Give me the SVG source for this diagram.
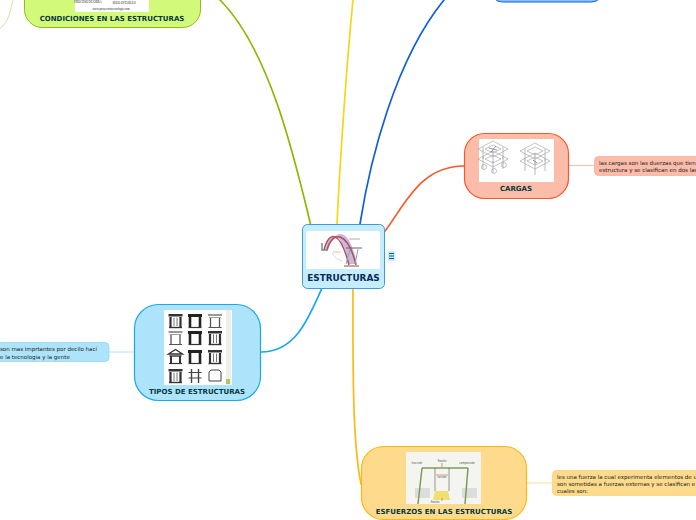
<svg xmlns="http://www.w3.org/2000/svg" width="696" height="520" viewBox="0 0 696 520">
<defs>
<style>
.lab{font-family:"DejaVu Sans",Verdana,sans-serif;font-weight:700;text-anchor:middle;fill:#063a3e;font-size:7px}
.note{font-family:"DejaVu Sans",Verdana,sans-serif;font-size:5.5px;fill:#222}
.tiny{font-family:"Liberation Sans",Arial,sans-serif;font-size:3px;fill:#555;text-anchor:middle}
.tinyd{font-family:"Liberation Serif",serif;font-size:3px;fill:#222;text-anchor:middle}
.c{fill:none;stroke-width:1.7;stroke-linecap:round}
.img{fill:#fff}
.fr{fill:none;stroke:#9a9a9a;stroke-width:.6}
</style>
<g id="archA">
<path d="M-7 -7H7V-4.500H-7Z" fill="#333"/><path d="M-5 -4V6M5 -4V6" stroke="#333" stroke-width="2.200"/><path d="M-6.500 6.500H6.500" stroke="#333" stroke-width="1.400"/><path d="M-1.500 -3.500V5M1.500 -3.500V5" stroke="#777" stroke-width="1"/>
</g>
<g id="archB">
<path d="M-7 -6H7" stroke="#555" stroke-width="1.200"/><path d="M-6 -3.500H6" stroke="#888" stroke-width=".8"/><path d="M-4.500 -3V6M4.500 -3V6" stroke="#555" stroke-width="1.300"/><path d="M-6.500 6.500H6.500" stroke="#555" stroke-width="1"/>
</g>
<g id="archC">
<path d="M-7 -3L0 -7.500L7 -3Z" fill="none" stroke="#333" stroke-width="1.400"/><path d="M-6 -1H6" stroke="#333" stroke-width="1.400"/><path d="M-4.500 -1V6M4.500 -1V6" stroke="#333" stroke-width="2"/><path d="M-6.500 6.500H6.500" stroke="#333" stroke-width="1.200"/>
</g>
<g id="archD">
<path d="M-7 -7H7V-4H-7Z" fill="#222"/><path d="M-5 -4V6M5 -4V6" stroke="#222" stroke-width="2.600"/><path d="M-6.500 6.500H6.500" stroke="#333" stroke-width="1.200"/>
</g>
<g id="archE">
<path d="M-6.500 -3.500H6.500M-6.500 2H6.500" stroke="#444" stroke-width="1.100"/><path d="M-3.500 -7V7M3.500 -7V7" stroke="#444" stroke-width="1.400"/>
</g>
<g id="floor">
<path d="M0 -8L15 0L0 8L-15 0Z" class="fr"/><path d="M0 -4L8 0L0 4L-8 0Z" class="fr"/><path d="M-10 -2V10M10 -2V10M0 2V14" stroke="#aaa" stroke-width=".8"/>
</g>
</defs>
<rect width="696" height="520" fill="#fff"/>
<g id="connectors">
<path class="c" stroke="#8ab800" d="M311 226C295 160 270 50 220 0"/>
<path class="c" stroke="#f2d818" d="M337 224C340 160 347 60 353 0"/>
<path class="c" stroke="#1060d8" d="M360 224C370 160 395 60 444 0"/>
<path class="c" stroke="#f5582a" d="M385 231C405 205 420 166 464 166"/>
<path class="c" stroke="#1ba8e8" d="M322 288C308 320 295 352 261 352"/>
<path class="c" stroke="#fbb916" d="M353 288C353 360 352 440 361 484"/>
<path fill="none" stroke="#d9e0a4" stroke-width="1" d="M13 0C10 12 8 24 0 28"/>
<path fill="none" stroke="#fbbcaa" stroke-width="1" d="M568 165.500H594"/>
<path fill="none" stroke="#aee4fb" stroke-width="1" d="M109 352H134"/>
<path fill="none" stroke="#fedb8c" stroke-width="1" d="M526 483H552"/>
</g>
<g id="node-condiciones">
<rect x="24.500" y="-30" width="176" height="57.500" rx="18" fill="#d3f97a" stroke="#8cc010"/>
<rect class="img" x="75" y="-4" width="74" height="16"/>
<text class="tinyd" x="88" y="3">PROCESO DE OBRA</text>
<text class="tinyd" x="124" y="4">SOLO ESTABLES</text>
<text class="tinyd" x="111" y="10">www.proyectostecnologia.com</text>
<text class="lab" x="112" y="21">CONDICIONES EN LAS ESTRUCTURAS</text>
</g>
<g id="node-azul">
<rect x="490.500" y="-30" width="113" height="32" rx="12" fill="#8cc0fa" stroke="#1060d8"/>
</g>
<g id="node-central">
<rect x="302.500" y="224.500" width="82" height="64" rx="5" fill="#c6edfd" stroke="#3c9be0"/>
<rect class="img" x="306" y="231" width="74" height="38" rx="1.500"/>
<path d="M325 250C329 230 342 230 349 264L357 264C350 228 335 226 328 250Z" fill="#c9b8dc"/>
<path d="M324 250C329 230 340 230 349 265" fill="none" stroke="#b0505c" stroke-width="1.500"/>
<path d="M327 250C333 229 348 232 356 265" fill="none" stroke="#b0505c" stroke-width="1.500"/>
<path d="M346 248H362" stroke="#666" stroke-width="1"/>
<path d="M322 243V250H328" stroke="#888" stroke-width="1.500" fill="none"/>
<path d="M344 266H359" stroke="#c8a898" stroke-width="2"/>
<path d="M350 249L346 264M358 249L355 264" stroke="#999" stroke-width="1"/>
<path d="M332 253C335 258 338 260 342 261" fill="none" stroke="#e8c0a0" stroke-width=".7"/>
<path d="M333 252H341" stroke="#f0a080" stroke-width=".7"/>
<path d="M349 239H360" stroke="#999" stroke-width=".8"/>
<text x="343.500" y="280.500" font-family="'DejaVu Sans',Verdana,sans-serif" font-weight="700" font-size="8.900" text-anchor="middle" fill="#082a58">ESTRUCTURAS</text>
</g>
<g id="icon-menu">
<rect x="387.500" y="251" width="8" height="10" rx="1.500" fill="#c6edfd"/>
<path d="M389 253.500H394M389 256H394M389 258.500H394" stroke="#1d4f80" stroke-width="1"/>
</g>
<g id="node-cargas">
<rect x="464.500" y="133.500" width="104" height="65" rx="20" fill="#fbbcaa" stroke="#f5582a" stroke-width="1.200"/>
<rect class="img" x="479" y="139" width="75" height="43" rx="1"/>
<use href="#floor" transform="translate(493 149)"/>
<use href="#floor" transform="translate(493 159)"/>
<circle cx="484" cy="167" r="2.500" class="fr"/><circle cx="494" cy="171" r="2.500" class="fr"/><circle cx="504" cy="165" r="2.500" class="fr"/>
<path d="M489 148L497 150M491 152L496 146" stroke="#555" stroke-width=".6"/>
<use href="#floor" transform="translate(535 151)"/>
<use href="#floor" transform="translate(535 161)"/>
<path d="M533 160L537 163" stroke="#555" stroke-width=".7"/>
<text class="lab" x="516" y="191">CARGAS</text>
</g>
<g id="note-cargas">
<rect x="594.500" y="156.500" width="130" height="19" rx="4" fill="#fbbcaa" stroke="#fba78f" stroke-width=".7"/>
<text class="note" x="599" y="164.500">las cargas son las duerzas que tien</text>
<text class="note" x="599" y="171.500">estructura y se clasifican en dos las</text>
</g>
<g id="node-tipos">
<rect x="134.500" y="304.500" width="126" height="96" rx="24" fill="#aee4fb" stroke="#1ba8e8" stroke-width="1.200"/>
<rect class="img" x="164" y="310" width="68" height="75" rx="1"/>
<rect x="226" y="310" width="5" height="75" fill="#eef0e8"/>
<rect x="226" y="379" width="4" height="5" fill="#a8c860"/>
<use href="#archA" transform="translate(175.500 321)"/>
<use href="#archD" transform="translate(195 321)"/>
<use href="#archB" transform="translate(215 321)"/>
<use href="#archB" transform="translate(175.500 338)"/>
<use href="#archD" transform="translate(195 338)"/>
<use href="#archA" transform="translate(215 338)"/>
<use href="#archC" transform="translate(175.500 357)"/>
<use href="#archD" transform="translate(195 357)"/>
<use href="#archA" transform="translate(215 357)"/>
<use href="#archA" transform="translate(175.500 376)"/>
<use href="#archE" transform="translate(195 376)"/>
<path d="M209 381V372L211 370H219L221 372V381Z" fill="none" stroke="#444"/>
<text class="lab" x="197" y="393.500">TIPOS DE ESTRUCTURAS</text>
</g>
<g id="note-tipos">
<rect x="-20" y="342.500" width="129" height="19" rx="4" fill="#aee4fb" stroke="#85d5f5" stroke-width=".7"/>
<text class="note" x="0" y="351">son mas imprtantes por decilo haci</text>
<text class="note" x="0" y="358.500">e la tecnologia y la gente</text>
</g>
<g id="node-esfuerzos">
<rect x="361.500" y="446.500" width="165" height="73" rx="22" fill="#fedb8c" stroke="#fbb916" stroke-width="1.200"/>
<rect x="406" y="452" width="75" height="52" rx="1" fill="#f4f4f0"/>
<rect x="415" y="488" width="15" height="10" fill="#ddd"/>
<rect x="462" y="488" width="15" height="10" fill="#ddd"/>
<path d="M422 468H468M422 468L418 504M468 468L465 504" stroke="#7f9a58" stroke-width="1.500" fill="none"/>
<path d="M435 468V491M449 468V491" stroke="#555" stroke-width=".6"/>
<path d="M435 491H448L450 500H433Z" fill="#f0e070"/>
<path d="M442 463V467M436 475H448M442 501V498" stroke="#c85040" stroke-width=".6"/>
<text class="tiny" x="417" y="464">tracción</text>
<text class="tiny" x="442" y="462">flexión</text>
<text class="tiny" x="467" y="464">compresión</text>
<text class="tiny" x="442" y="478">torsión</text>
<text class="tiny" x="435" y="503">flexión</text>
<text class="lab" x="444" y="514">ESFUERZOS EN LAS ESTRUCTURAS</text>
</g>
<g id="note-esfuerzos">
<rect x="552.500" y="470.500" width="170" height="25" rx="4" fill="#fedb8c" stroke="#fbd070" stroke-width=".7"/>
<text class="note" x="557" y="479">les una fuerza la cual experimenta elementos de u</text>
<text class="note" x="557" y="486">son sometidas a fuerzas externas y se clasifican  e</text>
<text class="note" x="557" y="493">cuales son:</text>
</g>
</svg>
